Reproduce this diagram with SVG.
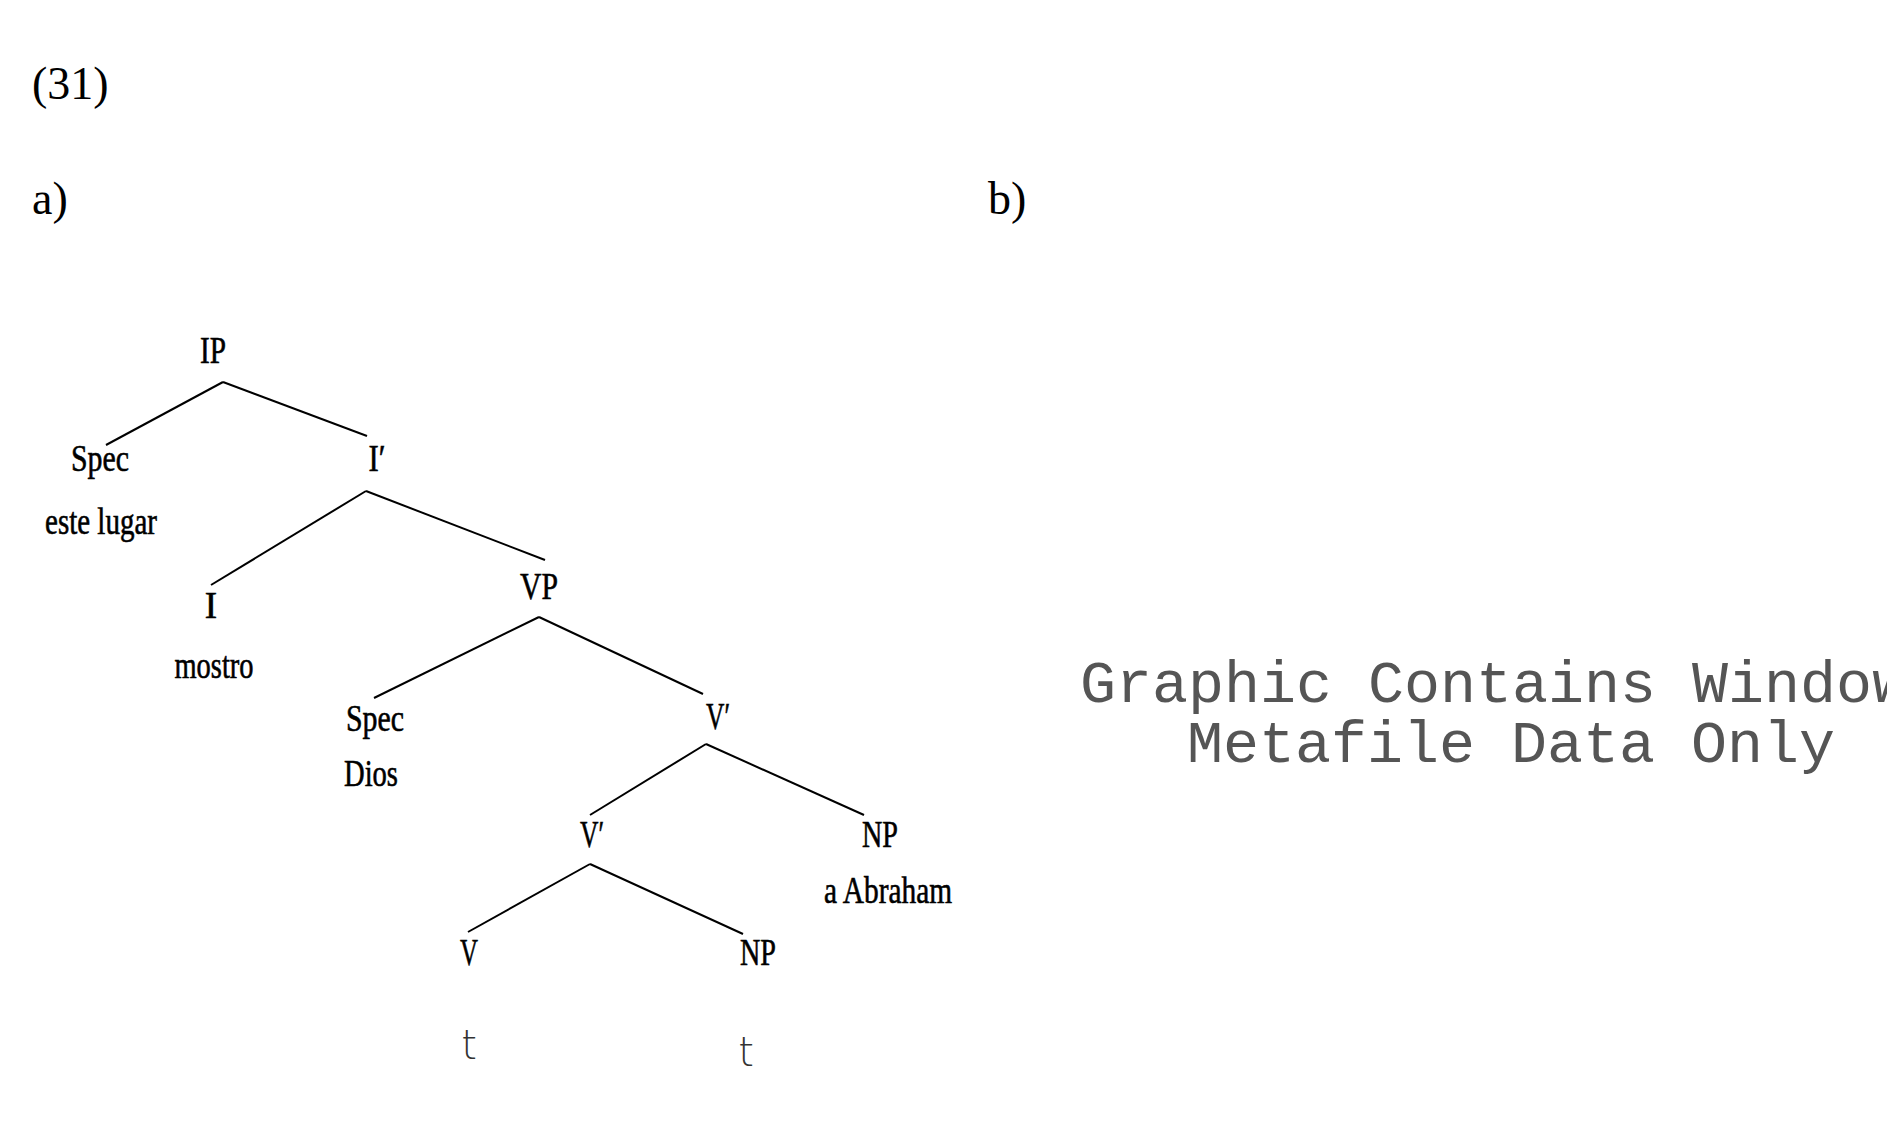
<svg xmlns="http://www.w3.org/2000/svg" width="1887" height="1136" viewBox="0 0 1887 1136">
<style>
.h{font-family:"Liberation Serif",serif;font-size:46px;fill:#000}
.n{font-family:"Liberation Serif",serif;font-size:37px;fill:#000;text-anchor:middle;stroke:#000;stroke-width:0.6}
.t{font-family:"DejaVu Sans",sans-serif;font-size:40px;font-weight:200;fill:#333;text-anchor:middle}
.m{font-family:"Liberation Mono",monospace;font-size:60px;fill:#555}
line{stroke:#000;stroke-width:2}
</style>
<rect width="1887" height="1136" fill="#fff"/>
<text class="h" x="32" y="99">(31)</text>
<text class="h" x="32" y="214">a)</text>
<text class="h" x="988" y="214">b)</text>
<g id="connectors">
<line x1="223" y1="382" x2="106" y2="445"/><line x1="223" y1="382" x2="367" y2="436"/>
<line x1="366" y1="491" x2="211" y2="585"/><line x1="366" y1="491" x2="545" y2="560"/>
<line x1="539" y1="617" x2="374" y2="698"/><line x1="539" y1="617" x2="703" y2="694"/>
<line x1="706" y1="744" x2="590" y2="815"/><line x1="706" y1="744" x2="864" y2="815"/>
<line x1="590" y1="864" x2="468" y2="932"/><line x1="590" y1="864" x2="743" y2="934"/>
</g>
<g id="IP"><text class="n" x="213" y="363" textLength="26" lengthAdjust="spacingAndGlyphs">IP</text></g>
<g id="Spec1"><text class="n" x="100" y="471" textLength="58" lengthAdjust="spacingAndGlyphs">Spec</text><text class="n" x="101" y="534" textLength="112" lengthAdjust="spacingAndGlyphs">este lugar</text></g>
<g id="Ibar"><text class="n" x="377" y="471" textLength="17" lengthAdjust="spacingAndGlyphs">I′</text></g>
<g id="I"><text class="n" x="211" y="618">I</text><text class="n" x="214" y="678" textLength="79" lengthAdjust="spacingAndGlyphs">mostro</text></g>
<g id="VP"><text class="n" x="539" y="599" textLength="38" lengthAdjust="spacingAndGlyphs">VP</text></g>
<g id="Spec2"><text class="n" x="375" y="731" textLength="58" lengthAdjust="spacingAndGlyphs">Spec</text><text class="n" x="371" y="786" textLength="54" lengthAdjust="spacingAndGlyphs">Dios</text></g>
<g id="Vbar1"><text class="n" x="718" y="729" textLength="24" lengthAdjust="spacingAndGlyphs">V′</text></g>
<g id="Vbar2"><text class="n" x="592" y="847" textLength="24" lengthAdjust="spacingAndGlyphs">V′</text></g>
<g id="NP1"><text class="n" x="880" y="847" textLength="36" lengthAdjust="spacingAndGlyphs">NP</text><text class="n" x="888" y="903" textLength="128" lengthAdjust="spacingAndGlyphs">a Abraham</text></g>
<g id="V"><text class="n" x="469" y="965" textLength="18" lengthAdjust="spacingAndGlyphs">V</text><text class="t" x="469" y="1059">t</text></g>
<g id="NP2"><text class="n" x="758" y="965" textLength="36" lengthAdjust="spacingAndGlyphs">NP</text><text class="t" x="746" y="1066">t</text></g>
<text class="m" x="1080" y="702">Graphic Contains Windows</text>
<text class="m" x="1187" y="762">Metafile Data Only</text>
</svg>
